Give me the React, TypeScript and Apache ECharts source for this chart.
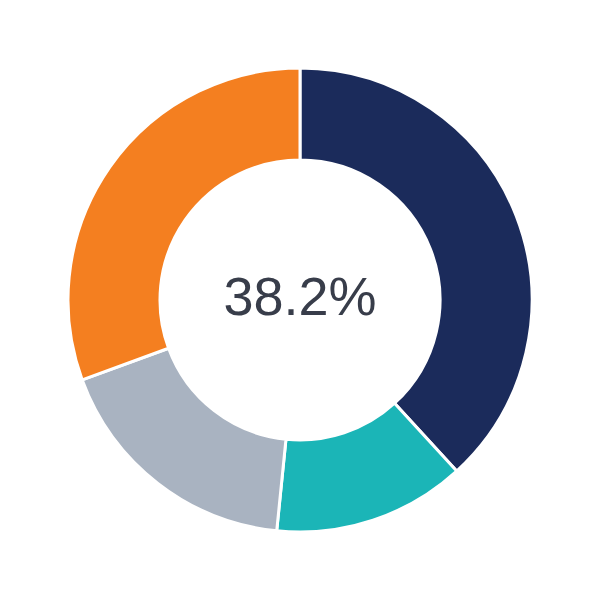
import { useEffect, useRef } from "react";
import * as echarts from "echarts";

const labels = ["A", "B", "C", "D"];
const values = [38.2, 13.4, 17.8, 30.6];
const colors = ["#1b2b5b", "#1bb5b7", "#a9b3c1", "#f47f20"];
const centerText = "38.2%";

export default function App() {
    const ref = useRef<HTMLDivElement>(null);

    useEffect(() => {
        if (!ref.current) return;
        const chart = echarts.init(ref.current, undefined, { renderer: "svg" });
        chart.setOption({
            animation: false,
            backgroundColor: "#ffffff",
            series: [
                {
                    type: "pie",
                    center: ["50%", "50%"],
                    radius: [140, 232],
                    startAngle: 90,
                    clockwise: true,
                    label: { show: false },
                    labelLine: { show: false },
                    emphasis: { disabled: true },
                    itemStyle: { borderColor: "#ffffff", borderWidth: 3 },
                    data: labels.map((name, i) => ({
                        name,
                        value: values[i],
                        itemStyle: { color: colors[i] },
                    })),
                },
            ],
            graphic: [
                {
                    type: "text",
                    x: 300,
                    y: 296,
                    style: {
                        text: centerText,
                        fill: "#383d4a",
                        fontSize: 54,
                        fontFamily: "Liberation Sans, Arial, sans-serif",
                        align: "center",
                        verticalAlign: "middle",
                    },
                },
            ],
        });
        return () => chart.dispose();
    }, []);

    return (
        <div
            ref={ref}
            style={{ position: "fixed", left: 0, top: 0, width: 600, height: 600 }}
        />
    );
}
